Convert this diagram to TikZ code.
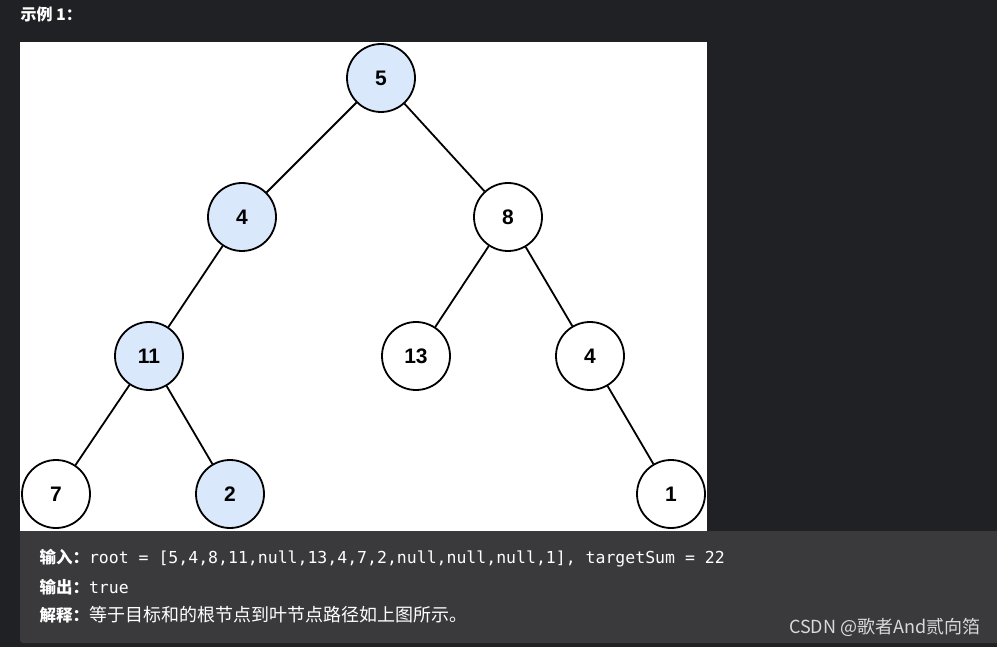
\documentclass[tikz,border=0pt]{standalone}
\usepackage{fontspec}
\setmainfont{Liberation Sans}
\setmonofont{DejaVu Sans Mono}
\newfontfamily\cjk{Noto Sans CJK SC}
\usetikzlibrary{positioning}
\definecolor{pagebg}{RGB}{32,33,36}
\definecolor{boxbg}{RGB}{58,58,60}
\definecolor{hilite}{RGB}{218,232,252}
\tikzset{
  treenode/.style={circle,draw=black,line width=1.8pt,fill=white,minimum size=68pt,inner sep=0pt,font=\fontsize{21}{21}\selectfont\bfseries},
  onpath/.style={treenode,fill=hilite},
  edge/.style={line width=1.8pt},
  boxtext/.style={anchor=west,text=white,font=\fontsize{16.5}{16.5}\selectfont}
}
\begin{document}
\begin{tikzpicture}[x=1pt,y=-1pt]
            \useasboundingbox (0,0) rectangle (997,647);
            \fill[pagebg] (0,0) rectangle (997,647);
            \node[anchor=west,text=white,font=\cjk\bfseries\fontsize{16}{16}\selectfont] (title) at (17,14) {示例 1：};
            \fill[white] (20,42) rectangle (707,531);
            % tree
            \node[onpath] (n5) at (381,78) {5};
            \node[onpath] (n4) at (242,217) {4};
            \node[treenode] (n8) at (508,217) {8};
            \node[onpath] (n11) at (149,356) {11};
            \node[treenode] (n13) at (416,356) {13};
            \node[treenode] (n4b) at (590,356) {4};
            \node[treenode] (n7) at (56,494) {7};
            \node[onpath] (n2) at (230,494) {2};
            \node[treenode] (n1) at (671,494) {1};
            \foreach \a/\b in {n5/n4,n5/n8,n4/n11,n8/n13,n8/n4b,n11/n7,n11/n2,n4b/n1}
              \draw[edge] (\a) -- (\b);
            % explanation box
            \fill[boxbg,rounded corners=3pt] (20,531) rectangle (1000,643);
            \fill[boxbg] (20,531) rectangle (1000,540);
            \node[boxtext] (inp) at (36,558) {{\cjk\bfseries 输入：}\texttt{root = [5,4,8,11,null,13,4,7,2,null,null,null,1], targetSum = 22}};
            \node[boxtext] (outp) at (36,587) {{\cjk\bfseries 输出：}\texttt{true}};
            \node[boxtext] (expl) at (36,615) {{\cjk\bfseries 解释：}{\cjk\fontsize{18}{18}\selectfont 等于目标和的根节点到叶节点路径如上图所示。}};
            \node[anchor=east,text=white!70!gray,font=\cjk\fontsize{18}{18}\selectfont] (mark) at (984,627) {CSDN @歌者And贰向箔};
\end{tikzpicture}
\end{document}
